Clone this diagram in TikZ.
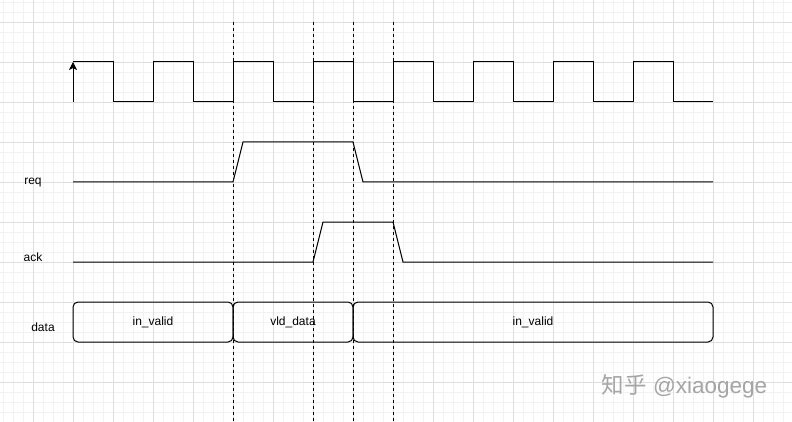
\documentclass[tikz,border=0pt]{standalone}
\usepackage{fontspec}
\setmainfont{Liberation Sans}
\newfontfamily\cjk{Noto Sans CJK SC}
\usetikzlibrary{arrows.meta}
\definecolor{minorc}{RGB}{242,242,242}
\definecolor{majorc}{RGB}{222,222,222}
\definecolor{wmark}{RGB}{165,165,165}
\tikzset{
  minorline/.style={draw=minorc, line width=0.6pt},
  majorline/.style={draw=majorc, line width=0.8pt},
  sig/.style={draw=black, line width=1pt, line join=miter},
  guide/.style={draw=black, line width=0.8pt, dash pattern=on 3pt off 3pt},
  databox/.style={draw=black, line width=1pt, rounded corners=5pt, minimum height=40pt, inner sep=0pt, font=\fontsize{12}{14}\selectfont},
  siglabel/.style={font=\fontsize{12}{14}\selectfont, inner sep=0pt},
}
\begin{document}
\begin{tikzpicture}[x=1pt,y=-1pt]
\useasboundingbox (0,0) rectangle (792,422);
\fill[white] (0,0) rectangle (792,422);
% grid
\foreach \x in {3,13,...,793} \draw[minorline] (\x,0) -- (\x,422);
\foreach \y in {2,12,...,422} \draw[minorline] (0,\y) -- (792,\y);
\foreach \x in {33,73,...,793} \draw[majorline] (\x,0) -- (\x,422);
\foreach \y in {22,62,...,422} \draw[majorline] (0,\y) -- (792,\y);

% clock
\coordinate (c0) at (73,102);
\coordinate (c1) at (73,62);
\draw[sig, -{Stealth[length=8pt,width=8pt,inset=2pt]}] (c0) -- (c1);
\draw[sig] (c1) -- (113,62) -- (113,102) -- (153,102) -- (153,62) -- (193,62) -- (193,102) -- (233,102) -- (233,62)
  -- (273,62) -- (273,102) -- (313,102) -- (313,62) -- (353,62) -- (353,102) -- (393,102) -- (393,62)
  -- (433,62) -- (433,102) -- (473,102) -- (473,62) -- (513,62) -- (513,102) -- (553,102) -- (553,62)
  -- (593,62) -- (593,102) -- (633,102) -- (633,62) -- (673,62) -- (673,102) -- (713,102);

% req
\coordinate (r0) at (73,182);
\coordinate (r1) at (233,182);
\coordinate (r2) at (243,142);
\coordinate (r3) at (353,142);
\coordinate (r4) at (363,182);
\coordinate (r5) at (713,182);
\draw[sig] (r0) -- (r1) -- (r2) -- (r3) -- (r4) -- (r5);

% ack
\coordinate (a0) at (73,262);
\coordinate (a1) at (313,262);
\coordinate (a2) at (323,222);
\coordinate (a3) at (393,222);
\coordinate (a4) at (403,262);
\coordinate (a5) at (713,262);
\draw[sig] (a0) -- (a1) -- (a2) -- (a3) -- (a4) -- (a5);

% data
\node[databox, minimum width=160pt] (d1) at (153,322) {in\_valid};
\node[databox, minimum width=120pt] (d2) at (293,322) {vld\_data};
\node[databox, minimum width=360pt] (d3) at (533,322) {in\_valid};

% labels
\node[siglabel] (lreq) at (33,183) {req};
\node[siglabel] (lack) at (33,257) {ack};
\node[siglabel] (ldata) at (43,327) {data};

% guides
\foreach \x in {233,313,353,393} \draw[guide] (\x,22) -- (\x,422);

% watermark
\node[text=wmark, inner sep=0pt, font=\fontsize{22.5}{26}\selectfont] (wm) at (684.5,386) {{\cjk 知乎} @xiaogege};
\end{tikzpicture}
\end{document}
